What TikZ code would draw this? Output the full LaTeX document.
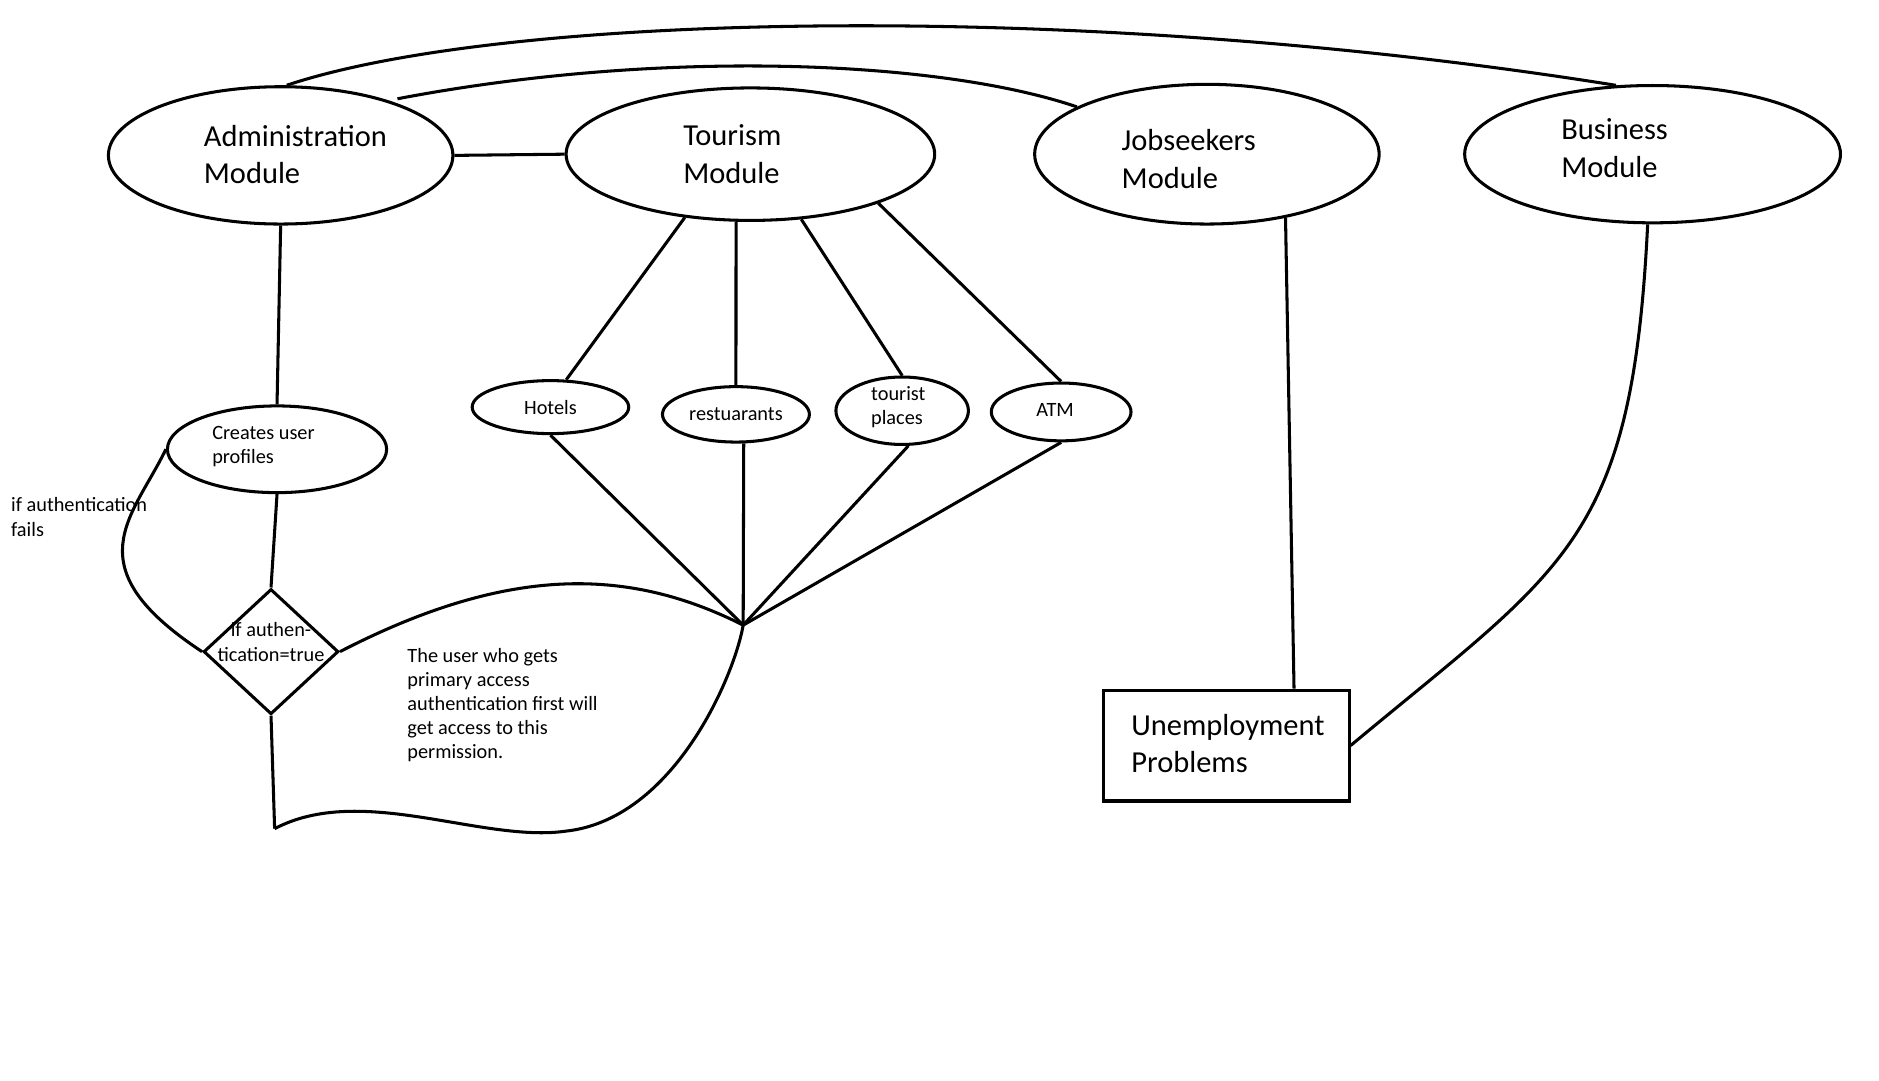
\documentclass[tikz,border=0pt]{standalone}
\usepackage{fontspec}
\setmainfont{Carlito}
\usetikzlibrary{shapes.geometric}
\begin{document}
\begin{tikzpicture}[x=0.05cm,y=-0.05cm,line width=3.6pt,
 big/.style={draw,ellipse},
 bt/.style={font=\fontsize{36}{44}\selectfont,align=left,anchor=west,inner sep=0pt},
 sm/.style={draw,ellipse,font=\fontsize{24}{28.5}\selectfont,align=left,inner sep=0pt},
 txt/.style={font=\fontsize{24}{28.5}\selectfont,align=left,inner sep=0pt}]
\useasboundingbox[fill=white] (0,0) rectangle (1560,897);
\node[big,minimum width=286*0.05cm,minimum height=114*0.05cm] (adm) at (233,129) {};
\node[big,minimum width=306*0.05cm,minimum height=110*0.05cm] (tou) at (623,128) {};
\node[big,minimum width=286*0.05cm,minimum height=116*0.05cm] (job) at (1002,128) {};
\node[big,minimum width=312*0.05cm,minimum height=114*0.05cm] (bus) at (1372,128) {};
\node[bt] (admt) at (168,128) {Administration\\Module};
\node[bt] (tout) at (566,128) {Tourism\\Module};
\node[bt] (jobt) at (930,132) {Jobseekers\\Module};
\node[bt] (bust) at (1295,123) {Business\\Module};
\node[sm,minimum width=130*0.05cm,minimum height=44*0.05cm] (hot) at (457,338) {Hotels};
\node[sm,minimum width=122*0.05cm,minimum height=46*0.05cm] (res) at (611,344) {restuarants};
\node[sm,minimum width=110*0.05cm,minimum height=56*0.05cm] (tp) at (749,341) {};
\node[txt,anchor=west] (tpt) at (722,338) {tourist\\places};
\node[sm,minimum width=116*0.05cm,minimum height=48*0.05cm] (atm) at (881,342) {};
\node[txt] (atmt) at (876,340) {ATM};
\node[sm,minimum width=182*0.05cm,minimum height=72*0.05cm] (cup) at (230,373) {};
\node[txt,anchor=west] (cupt) at (175,371) {Creates user\\profiles};
\node[draw,diamond,minimum width=112*0.05cm,minimum height=104*0.05cm,inner sep=0pt] (dia) at (225,541) {};
\node[txt,align=center] (diat) at (225,533) {if authen-\\tication=true};
\node[draw,minimum width=204*0.05cm,minimum height=92*0.05cm] (une) at (1018,619) {};
\node[bt] (unet) at (938,617) {Unemployment\\Problems};
\node[txt,anchor=north west] (fail) at (8,412) {if authentication\\fails};
\node[txt,anchor=north west] (par) at (337,537) {The user who gets\\primary access\\authentication first will\\get access to this\\permission.};
\coordinate (hub) at (617,519);
\coordinate (bl) at (228,688);
\draw (adm.east) -- (tou.west);
\draw (tou.224) -- (hot.60);
\draw (tou.258) -- (res.north);
\draw (tou.308) -- (tp.north);
\draw (tou.339) -- (atm.north);
\draw (hot.south) -- (hub);
\draw (res.285) -- (hub);
\draw (tp.280) -- (hub);
\draw (atm.south) -- (hub);
\draw (adm.south) -- (cup.north);
\draw (cup.south) -- (dia.north);
\draw (dia.west) .. controls (60,470) and (110,430) .. (cup.west);
\draw (dia.east) .. controls (420,470) and (520,470) .. (hub);
\draw (dia.south) -- (bl);
\draw (bl) .. controls (300,650) and (400,700) .. (470,690) .. controls (560,680) and (610,560) .. (hub);
\draw (adm.85) .. controls (420,10) and (900,0) .. (bus.118);
\draw (330,82) .. controls (550,40) and (780,50) .. (job.160);
\draw (job.321) -- (une.40);
\draw (bus.266) .. controls (1355,450) and (1300,470) .. (une.east);
\end{tikzpicture}
\end{document}
